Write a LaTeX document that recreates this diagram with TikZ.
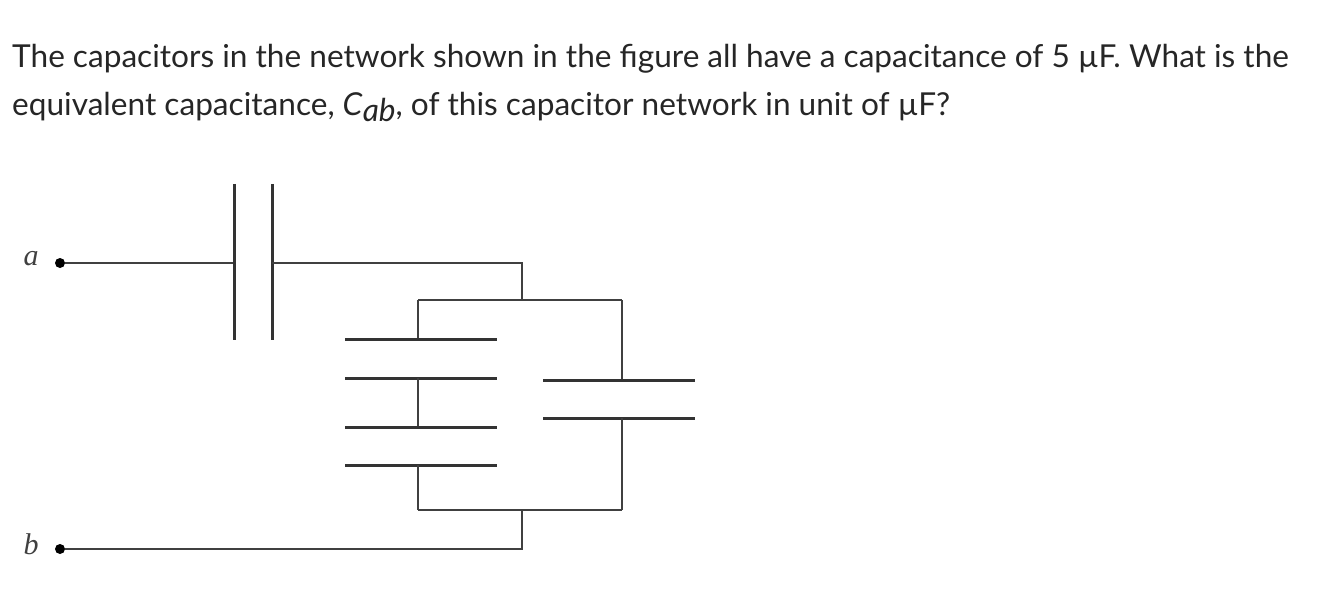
\documentclass[tikz,border=0pt]{standalone}
\usepackage{fontspec}
\setmainfont{Lato}
\newfontfamily\lblfont{Liberation Serif}
\begin{document}
\begin{tikzpicture}[x=1pt,y=-1pt,
  wire/.style={line width=1.8pt,draw=black!75},
  plate/.style={line width=3pt,draw=black!80},
  term/.style={circle,fill=black,inner sep=0pt,minimum size=10pt}]
\useasboundingbox (0,0) rectangle (1324,604);
\node[anchor=base west,inner sep=0pt,font=\fontsize{31.6}{36}\selectfont,text=black!85] (t1) at (12,68) {The capacitors in the network shown in the figure all have a capacitance of 5 µF. What is the};
\node[anchor=base west,inner sep=0pt,font=\fontsize{31.6}{36}\selectfont,text=black!85] (t2) at (12,116) {equivalent capacitance, \textit{C}\raisebox{-0.35ex}{\textit{ab}}, of this capacitor network in unit of µF?};
\node[term] (a) at (60,263) {};
\node[term] (b) at (60,549) {};
\node[font=\lblfont\fontsize{30}{30}\selectfont\itshape,text=black!75] (la) at (31,259) {a};
\node[font=\lblfont\fontsize{30}{30}\selectfont\itshape,text=black!75] (lb) at (31,544) {b};
% series capacitor
\coordinate (p1) at (234,263);
\coordinate (p2) at (272,263);
\draw[wire] (a) -- (p1);
\draw[plate] (234,184) -- (234,340);
\draw[plate] (272,184) -- (272,340);
\coordinate (tr) at (522,263);
\coordinate (tn) at (522,300);
\draw[wire] (p2) -- (tr) -- (tn);
\coordinate (tl) at (418,300);
\coordinate (trr) at (622,300);
\draw[wire] (tl) -- (trr);
% left branch: two caps in series
\draw[wire] (tl) -- (418,339);
\draw[plate] (345,339) -- (497,339);
\draw[plate] (345,378) -- (497,378);
\draw[wire] (418,378) -- (418,427);
\draw[plate] (345,427) -- (497,427);
\draw[plate] (345,465) -- (497,465);
\coordinate (bl) at (418,510);
\draw[wire] (418,465) -- (bl);
% right branch
\draw[wire] (trr) -- (622,380);
\draw[plate] (543,380) -- (695,380);
\draw[plate] (543,418) -- (695,418);
\coordinate (brr) at (622,510);
\draw[wire] (622,418) -- (brr);
\draw[wire] (bl) -- (brr);
\coordinate (bn) at (522,510);
\coordinate (bb) at (522,549);
\draw[wire] (bn) -- (bb) -- (b);
\end{tikzpicture}
\end{document}
